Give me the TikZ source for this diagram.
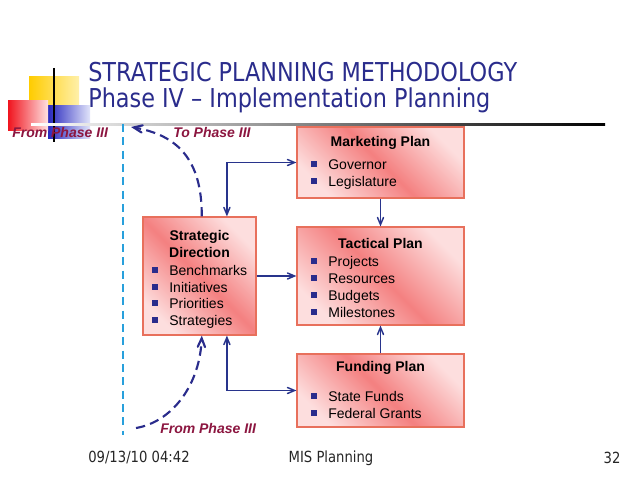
\documentclass[tikz,border=0pt]{standalone}
\usepackage{fontspec}
\setmainfont{Liberation Sans}
\newfontfamily\titlefont[FakeStretch=0.86]{DejaVu Sans}
\usepackage{tikz}
\usetikzlibrary{arrows,calc}
\definecolor{navy}{RGB}{42,44,140}
\definecolor{arrowblue}{RGB}{40,52,140}
\definecolor{phasered}{RGB}{140,22,64}
\definecolor{dashblue}{RGB}{40,160,220}
\definecolor{boxline}{RGB}{232,112,92}
\definecolor{boxred}{RGB}{244,128,128}
\definecolor{boxlight}{RGB}{253,222,222}
\definecolor{sqyellow}{RGB}{255,204,0}
\definecolor{sqyellowlt}{RGB}{255,240,170}
\definecolor{sqblue}{RGB}{40,40,190}
\definecolor{sqbluelt}{RGB}{225,228,250}
\definecolor{sqred}{RGB}{240,20,30}
\definecolor{sqredlt}{RGB}{255,225,225}
\tikzstyle{plan}=[rectangle,draw=boxline,line width=0.9pt,left color=boxlight,
                right color=boxlight,middle color=boxred,shading angle=135,inner sep=0pt]
\tikzstyle{conn}=[draw=arrowblue,line width=1.1pt,>=angle 45]
\tikzstyle{phase}=[draw=navy,line width=1.6pt,dash pattern=on 7pt off 4pt,>=angle 45]
\tikzstyle{item}=[anchor=west,inner sep=0pt,text height=8pt,text depth=2.2pt,
                font=\fontsize{10.5}{12}\selectfont]
\tikzstyle{head}=[inner sep=0pt,align=center,font=\fontsize{10.5}{12.75}\selectfont\bfseries]
\tikzstyle{phaselabel}=[anchor=west,inner sep=0pt,text=phasered,
                font=\fontsize{10.5}{12}\selectfont\bfseries\itshape]
\tikzstyle{foot}=[inner sep=0pt,text=black!85,font=\titlefont\fontsize{11.5}{13}\selectfont]
\newcommand{\bul}{\textcolor{navy}{\raisebox{2.2pt}{\rule{4.2pt}{4.2pt}}}\hspace{8.6pt}}

\begin{document}
\begin{tikzpicture}[x=0.75pt,y=-0.75pt]
    \useasboundingbox (0,0) rectangle (638,478);
    \fill[white] (0,0) rectangle (638,478);

    % coloured squares of the slide
    \shade[left color=sqyellow,right color=sqyellowlt] (29,76) rectangle (79,108);
    \shade[left color=sqblue,right color=sqbluelt] (48,105) rectangle (90,138);
    \shade[left color=sqred,right color=sqredlt] (8,100) rectangle (48,130);
    \draw[black,line width=1.5pt] (54,68) -- (54,142);
    \shade[left color=white,middle color=black!45,right color=black] (31,123) rectangle (605,125.5);

    % title
    \node[anchor=base west,inner sep=0pt,text=navy,font=\titlefont\fontsize{19.5}{20}\selectfont]
        (mainTitle) at (88,81) {STRATEGIC PLANNING METHODOLOGY};
    \node[anchor=base west,inner sep=0pt,text=navy,font=\titlefont\fontsize{19.5}{20}\selectfont]
        (subTitle) at (88,107) {Phase IV – Implementation Planning};

    % phase border
    \draw[dashblue,line width=1.5pt,dash pattern=on 6pt off 4pt] (123,124) -- (123,435);

    % the four plans
    \node[plan,minimum width=125.25pt,minimum height=53.25pt] (mkt) at (380.5,162.5) {};
    \node[plan,minimum width=125.25pt,minimum height=73.5pt] (tac) at (380.5,276) {};
    \node[plan,minimum width=125.25pt,minimum height=54.75pt] (fund) at (380.5,390.5) {};
    \node[plan,minimum width=84.75pt,minimum height=88.5pt] (strat) at (199.5,276) {};

    % headings
    \node[head] (mktTitle) at (380.5,143) {Marketing Plan};
    \node[head] (tacTitle) at (380.5,243) {Tactical Plan};
    \node[head] (fundTitle) at (380.5,368) {Funding Plan};
    \node[head] (stratTitle) at (199.5,243.5) {Strategic\\Direction};

    % bullet items
    \foreach \name / \y / \txt in {1/166/Governor,2/183/Legislature}
        \node[item] (M-\name) at (311,\y) {\bul\txt};
    \foreach \name / \y / \txt in {1/263/Projects,2/280/Resources,3/297/Budgets,4/314/Milestones}
        \node[item] (T-\name) at (311,\y) {\bul\txt};
    \foreach \name / \y / \txt in {1/398/State Funds,2/415/Federal Grants}
        \node[item] (F-\name) at (311,\y) {\bul\txt};
    \foreach \name / \y / \txt in {1/272/Benchmarks,2/289/Initiatives,3/305/Priorities,4/322/Strategies}
        \node[item] (S-\name) at (152,\y) {\bul\txt};

    %connect plans
    \draw[conn,<->] ($(strat.north west)!.74!(strat.north east)$) |- (mkt.west);
    \draw[conn,->] (mkt.south) -- (tac.north);
    \draw[conn,->] (strat.east) -- (strat.east -| tac.west);
    \draw[conn,->] (fund.north) -- (tac.south);
    \draw[conn,<->] ($(strat.south west)!.74!(strat.south east)$) |- (fund.west);

    % links to the other phases
    \node[phaselabel] (fromTop) at (12,132) {From Phase III};
    \node[phaselabel] (toPhase) at (173,132) {To Phase III};
    \node[phaselabel] (fromBottom) at (160,428) {From Phase III};
    \coordinate (toEnd) at (131,127);
    \coordinate (fromStart) at (136,428);
    \draw[phase,->] ($(strat.north west)!.52!(strat.north east)$)
        .. controls (202,160) and (178,135) .. (toEnd);
    \draw[phase,->] (fromStart) .. controls (172,422) and (200,385)
        .. ($(strat.south west)!.52!(strat.south east)$);

    % footer
    \node[foot,anchor=west] (date) at (88,458) {09/13/10 04:42};
    \node[foot] (footTitle) at (331,458) {MIS Planning};
    \node[foot] (pageNo) at (612,458) {32};
\end{tikzpicture}
\end{document}
